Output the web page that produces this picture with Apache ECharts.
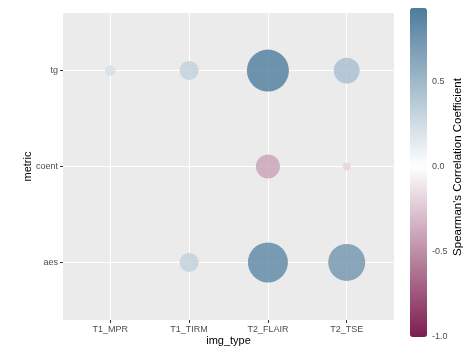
<!DOCTYPE html>
<html><head><meta charset="utf-8">
<script src="https://cdn.jsdelivr.net/npm/echarts@6/dist/echarts.min.js"></script>
<style>html,body{margin:0;padding:0;background:#fff}#c{width:474px;height:363px}</style>
</head><body><div id="c"></div>
<script>
// Data
const imgTypes = ['T1_MPR', 'T1_TIRM', 'T2_FLAIR', 'T2_TSE'];
const metrics = ['aes', 'coent', 'tg']; // bottom to top
const tgVals =    [0.22, 0.33, 0.93, 0.46];
const coentVals = [null, null, -0.42, -0.20];
const aesVals =   [null, 0.33, 0.86, 0.76];
const legendTicks = [-1.0, -0.5, 0.0, 0.5];
const colorMin = -1, colorMax = 0.93;

const rows = {aes: aesVals, coent: coentVals, tg: tgVals};
const points = [];
metrics.forEach((m, yi) => {
  rows[m].forEach((v, xi) => {
    if (v !== null) points.push([xi + 1, yi + 1, v]);
  });
});

// diverging colour stops evenly spaced from colorMin to colorMax
const low = [125, 29, 79], mid = [255, 255, 255], high = [78, 124, 156];
function mix(a, b, t) { return a.map((c, i) => Math.round(c + (b[i] - c) * t)); }
const stops = [];
const N = 60;
for (let i = 0; i <= N; i++) {
  const v = colorMin + (colorMax - colorMin) * i / N;
  const c = v < 0 ? mix(mid, low, v / colorMin) : mix(mid, high, v / colorMax);
  stops.push('rgb(' + c.join(',') + ')');
}

const chart = echarts.init(document.getElementById('c'));
const font = 'Liberation Sans, Arial, sans-serif';
chart.setOption({
  backgroundColor: '#ffffff',
  animation: false,
  grid: [
    {left: 63, right: 80, top: 13, bottom: 43, backgroundColor: '#ebebeb', show: true, borderWidth: 0},
    {left: 410, width: 17, top: 8, height: 329, show: false},
    {left: 410, width: 17, top: 8, height: 318, show: false}
  ],
  xAxis: [{
    type: 'value', min: 0.4, max: 4.6, gridIndex: 0,
    name: 'img_type', nameLocation: 'middle', nameGap: 15, nameMoveOverlap: false,
    nameTextStyle: {color: '#000', fontSize: 11, fontFamily: font},
    axisLine: {show: false},
    axisTick: {show: true, length: 3, lineStyle: {color: '#333', width: 1}, customValues: [1, 2, 3, 4]},
    axisLabel: {customValues: [1, 2, 3, 4], formatter: v => imgTypes[Math.round(v) - 1] || '', color: '#4d4d4d', fontSize: 9, fontFamily: font, margin: 5},
    splitLine: {show: true, lineStyle: {color: '#ffffff', width: 1.1}}
  }, {
    type: 'value', gridIndex: 1, show: false, min: 0, max: 1
  }, {
    type: 'value', gridIndex: 2, show: false, min: 0, max: 1
  }],
  yAxis: [{
    type: 'value', min: 0.4, max: 3.6, gridIndex: 0,
    name: 'metric', nameLocation: 'middle', nameGap: 30, nameMoveOverlap: false,
    nameTextStyle: {color: '#000', fontSize: 11, fontFamily: font},
    axisLine: {show: false},
    axisTick: {show: true, length: 3, lineStyle: {color: '#333', width: 1}, customValues: [1, 2, 3]},
    axisLabel: {customValues: [1, 2, 3], formatter: v => metrics[Math.round(v) - 1] || '', color: '#4d4d4d', fontSize: 9, fontFamily: font, margin: 5},
    splitLine: {show: true, lineStyle: {color: '#ffffff', width: 1.1}}
  }, {
    type: 'value', gridIndex: 1, min: colorMin, max: colorMax, position: 'right',
    axisLine: {show: false},
    axisTick: {show: true, inside: true, length: 3, lineStyle: {color: 'rgba(255,255,255,0.8)'}, customValues: legendTicks},
    axisLabel: {customValues: legendTicks, formatter: v => v.toFixed(1), color: '#4d4d4d', fontSize: 9, fontFamily: font, margin: 5},
    splitLine: {show: false}
  }, {
    type: 'value', gridIndex: 2, min: 0, max: 1, position: 'right',
    name: "Spearman's Correlation Coefficient", nameLocation: 'middle', nameGap: 25, nameRotate: 90, nameMoveOverlap: false,
    nameTextStyle: {color: '#000', fontSize: 11.5, fontFamily: font},
    axisLine: {show: false}, axisTick: {show: false}, axisLabel: {show: false}, splitLine: {show: false}
  }],
  visualMap: {
    type: 'continuous', min: colorMin, max: colorMax, dimension: 2, seriesIndex: 0,
    calculable: false, realtime: false, text: null, showLabel: false,
    left: 410, top: 8, itemWidth: 17, itemHeight: 329, padding: 0,
    inRange: {color: stops},
    handleStyle: {opacity: 0}, indicatorStyle: {opacity: 0}
  },
  series: [{
    type: 'scatter', xAxisIndex: 0, yAxisIndex: 0,
    data: points,
    symbol: 'circle',
    symbolSize: d => Math.sqrt(Math.max(40, 2329 * Math.abs(d[2]) - 402)),
    itemStyle: {opacity: 0.8},
    emphasis: {disabled: true}
  }]
});
</script></body></html>
